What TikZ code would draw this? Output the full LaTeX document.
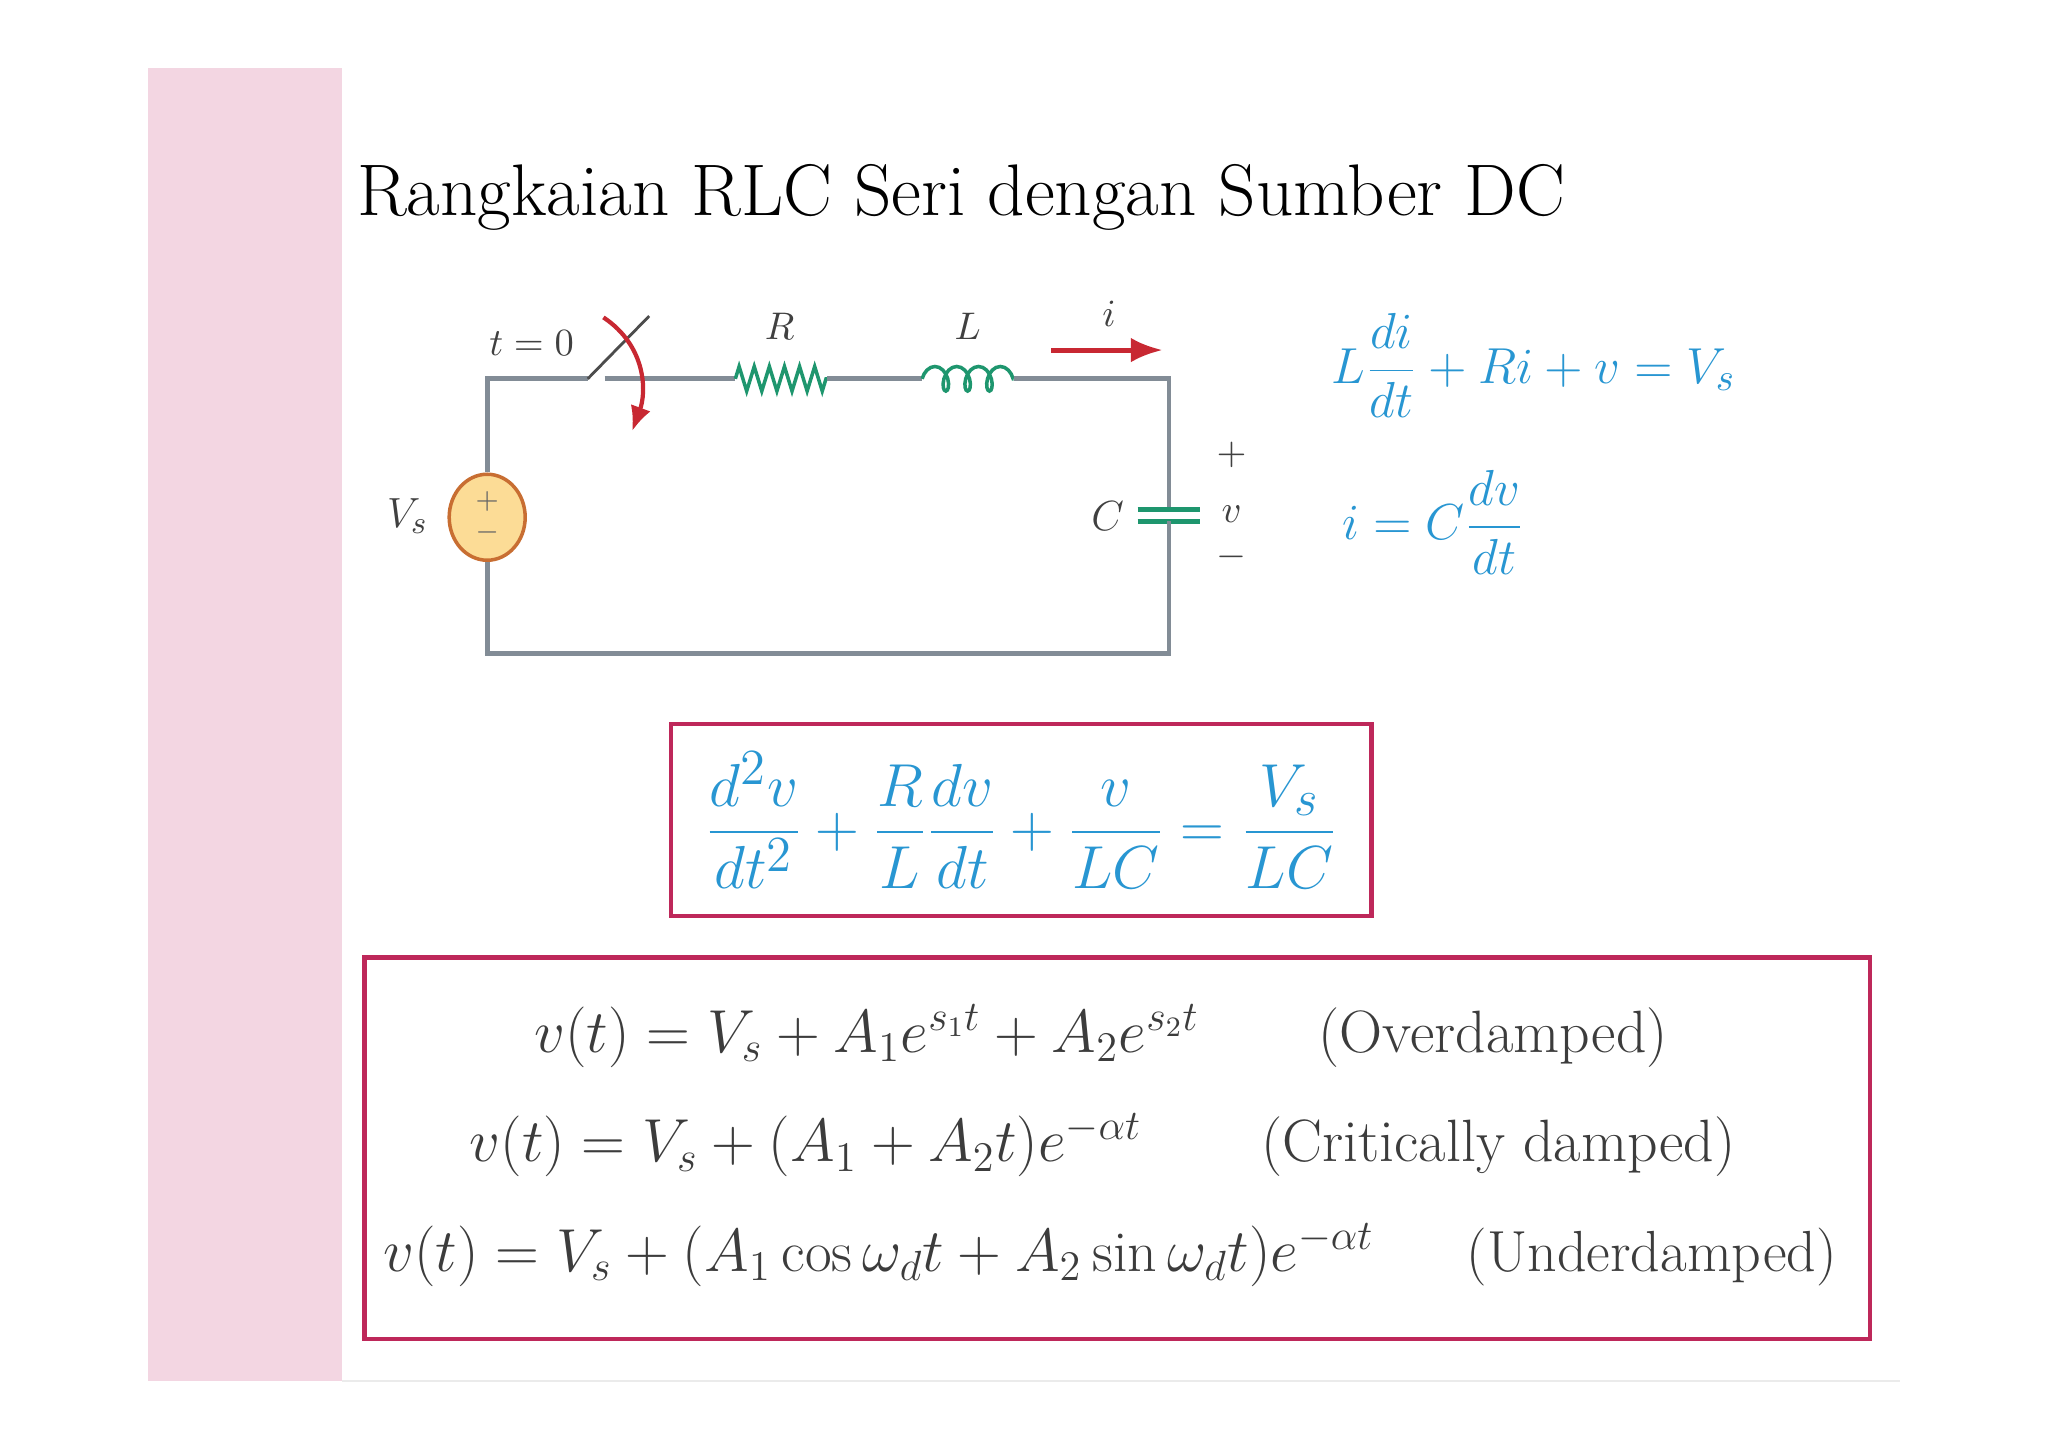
\documentclass[tikz,border=0pt]{standalone}
\usepackage{fontspec}
\usetikzlibrary{decorations.pathmorphing,arrows.meta,shapes.geometric}
\definecolor{eqblue}{RGB}{40,150,210}
\definecolor{crim}{RGB}{190,40,90}
\definecolor{wire}{RGB}{130,140,150}
\definecolor{grn}{RGB}{30,150,110}
\definecolor{redar}{RGB}{200,40,50}
\definecolor{srcfill}{RGB}{252,220,150}
\definecolor{srcedge}{RGB}{200,110,50}
\definecolor{eqgray}{RGB}{60,60,60}
\definecolor{band}{RGB}{243,214,226}
\tikzset{
 wirel/.style={draw=wire,line width=1.4pt},
 ebox/.style={draw=crim,line width=1.2pt},
 lbl/.style={font=\fontsize{11}{13}\selectfont,text=black!75},
 beq/.style={text=eqblue,font=\fontsize{15}{18}\selectfont},
 geq/.style={text=eqgray,font=\fontsize{17}{20}\selectfont},
}
\begin{document}
\begin{tikzpicture}[x=0.013061cm,y=-0.013061cm]
\useasboundingbox (0,0) rectangle (1568,1108);
\fill[white] (0,0) rectangle (1568,1108);
\fill[band] (113,52) rectangle (262,1057);
\draw[black!8,line width=0.6pt] (262,1057) -- (1455,1057);
\node[anchor=base west,inner sep=0,font=\fontsize{20.8}{25}\selectfont] (title) at (273,165) {Rangkaian RLC Seri dengan Sumber DC};
% circuit
\coordinate (tl) at (373,290); \coordinate (tr) at (895,290);
\coordinate (bl) at (373,500); \coordinate (br) at (895,500);
\coordinate (sw1) at (450,290); \coordinate (sw2) at (497,242);
\coordinate (r1) at (563,290); \coordinate (r2) at (633,290);
\coordinate (l1) at (706,290); \coordinate (l2) at (776,290);
\coordinate (c1) at (895,390); \coordinate (c2) at (895,399);
\node[ellipse,minimum width=0.76cm,minimum height=0.86cm,draw=srcedge,fill=srcfill,line width=1pt,inner sep=0] (src) at (373,396) {};
\node[font=\fontsize{8}{10}\selectfont,text=black!60,inner sep=0] at (373,384) {$+$};
\node[font=\fontsize{8}{10}\selectfont,text=black!60,inner sep=0] at (373,408) {$-$};
\draw[wirel] (src.north) -- (tl) -- (sw1);
\draw[black!70,line width=0.8pt] (sw1) -- (sw2);
\draw[wirel] (463,290) -- (r1);
\draw[grn,line width=1pt,decorate,decoration={zigzag,segment length=4.3pt,amplitude=3.5pt}] (r1) -- (r2);
\draw[wirel] (r2) -- (l1);
\draw[grn,line width=1pt,decorate,decoration={coil,segment length=6.2pt,amplitude=3.5pt,aspect=0.6}] (l1) -- (l2);
\draw[wirel] (l2) -- (tr) -- (c1);
\draw[grn,line width=1.4pt] (871,390) -- (919,390) (871,399) -- (919,399);
\draw[wirel] (c2) -- (br) -- (bl) -- (src.south);
\draw[redar,line width=1.2pt,-{Latex[length=7,width=6]}] (462,243) .. controls (495,265) and (495,300) .. (484,330);
\draw[redar,line width=1.4pt,-{Latex[length=9,width=7]}] (805,268) -- (890,268);
\node[lbl] (tlab) at (407,263) {$t=0$};
\node[lbl] (rlab) at (597,250) {$R$};
\node[lbl] (llab) at (741,250) {$L$};
\node[lbl] (ilab) at (849,240) {$i$};
\node[lbl,font=\fontsize{13}{15}\selectfont] (vslab) at (312,395) {$V_s$};
\node[lbl,font=\fontsize{13}{15}\selectfont] (clab) at (848,395) {$C$};
\node[lbl] (pl) at (943,348) {$+$};
\node[lbl] (vl) at (943,394) {$v$};
\node[lbl] (mi) at (943,426) {$-$};
% blue equations
\node[beq,anchor=west] (eq1) at (1010,280) {$\displaystyle L\frac{di}{dt}+Ri+v=V_s$};
\node[beq,anchor=west,font=\fontsize{14}{17}\selectfont] (eq2) at (1018,400) {$\displaystyle i=C\frac{dv}{dt}$};
% box 1
\draw[ebox] (514,554) rectangle (1050,701);
\node[beq,font=\fontsize{19}{22}\selectfont] (eq3) at (782,628) {$\displaystyle \frac{d^2v}{dt^2}+\frac{R}{L}\frac{dv}{dt}+\frac{v}{LC}=\frac{V_s}{LC}$};
% box 2
\draw[ebox] (279,733) rectangle (1432,1025);
\node[geq] (o1) at (843,793) {$v(t)=V_s+A_1e^{s_1t}+A_2e^{s_2t}$\hspace{2em}(Overdamped)};
\node[geq] (o2) at (844,877) {$v(t)=V_s+(A_1+A_2t)e^{-\alpha t}$\hspace{2em}(Critically damped)};
\node[geq,font=\fontsize{16.5}{20}\selectfont] (o3) at (850,961) {$v(t)=V_s+(A_1\cos\omega_dt+A_2\sin\omega_dt)e^{-\alpha t}$\hspace{1.6em}(Underdamped)};
\end{tikzpicture}
\end{document}
